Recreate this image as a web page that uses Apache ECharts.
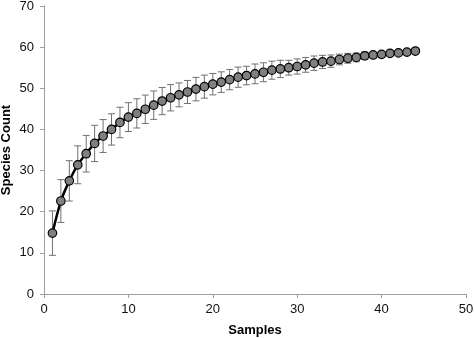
<!DOCTYPE html>
<html>
<head>
<meta charset="utf-8">
<script src="https://cdn.jsdelivr.net/npm/echarts@6/dist/echarts.min.js"></script>
<style>html,body{margin:0;padding:0;background:#fff}#c{width:474px;height:338px}</style>
</head>
<body>
<div id="c"></div>
<script>
const samples = [1,2,3,4,5,6,7,8,9,10,11,12,13,14,15,16,17,18,19,20,21,22,23,24,25,26,27,28,29,30,31,32,33,34,35,36,37,38,39,40,41,42,43,44];
const speciesCount = [14.8,22.6,27.5,31.4,34.1,36.6,38.4,40.0,41.7,43.0,43.9,44.9,45.9,46.9,47.7,48.4,49.1,49.8,50.4,51.0,51.5,52.1,52.7,53.1,53.5,53.9,54.4,54.7,55.0,55.3,55.7,56.1,56.4,56.6,57.0,57.3,57.5,57.9,58.1,58.25,58.5,58.6,58.8,59.05];
const errorSD = [5.4,5.2,4.9,4.6,4.45,4.4,4.0,3.8,3.7,3.5,3.55,3.45,3.45,3.3,3.2,2.9,2.8,2.85,2.8,2.6,2.5,2.45,2.45,2.25,2.4,2.3,2.2,2.1,1.8,1.85,1.8,1.75,1.6,1.5,1.3,1.2,1.05,0.9,0.6,0.4,0,0,0,0];
const xTicks = [0,10,20,30,40,50];
const yTicks = [0,10,20,30,40,50,60,70];

const chart = echarts.init(document.getElementById('c'));
const lineData = samples.map((s,i)=>[s, speciesCount[i]]);
const errData = samples.map((s,i)=>[s, speciesCount[i]-errorSD[i], speciesCount[i]+errorSD[i]]);
const font = 'Liberation Sans, Arial, sans-serif';
chart.setOption({
  animation: false,
  grid: {left: 44, right: 8, top: 6, bottom: 44, containLabel: false, outerBoundsMode: 'none'},
  xAxis: {
    type: 'value', min: xTicks[0], max: xTicks[xTicks.length-1], interval: 10,
    name: 'Samples', nameLocation: 'middle', nameGap: 30, nameMoveOverlap: false,
    nameTextStyle: {fontFamily: font, fontWeight: 'bold', fontSize: 13, color: '#000'},
    axisLine: {lineStyle: {color: '#a0a0a0', width: 1}},
    axisTick: {show: true, length: 4, lineStyle: {color: '#a0a0a0'}},
    axisLabel: {fontFamily: font, fontSize: 13, color: '#111', margin: 9},
    splitLine: {show: false}
  },
  yAxis: {
    type: 'value', min: yTicks[0], max: yTicks[yTicks.length-1], interval: 10,
    name: 'Species Count', nameLocation: 'middle', nameGap: 31, nameRotate: 90, nameMoveOverlap: false,
    nameTextStyle: {fontFamily: font, fontWeight: 'bold', fontSize: 13, color: '#000'},
    axisLine: {show: true, lineStyle: {color: '#a0a0a0', width: 1}},
    axisTick: {show: true, length: 4, lineStyle: {color: '#a0a0a0'}},
    axisLabel: {fontFamily: font, fontSize: 13, color: '#111', margin: 10},
    splitLine: {show: false}
  },
  series: [
    {
      type: 'custom', z: 1,
      data: errData,
      renderItem: function(params, api){
        const x = api.value(0);
        const lo = api.coord([x, api.value(1)]);
        const hi = api.coord([x, api.value(2)]);
        const hw = 3.5;
        const st = {stroke: '#707070', lineWidth: 1};
        return {type: 'group', children: [
          {type: 'line', shape: {x1: lo[0], y1: lo[1], x2: hi[0], y2: hi[1]}, style: st},
          {type: 'line', shape: {x1: lo[0]-hw, y1: lo[1], x2: lo[0]+hw, y2: lo[1]}, style: st},
          {type: 'line', shape: {x1: hi[0]-hw, y1: hi[1], x2: hi[0]+hw, y2: hi[1]}, style: st}
        ]};
      }
    },
    {
      type: 'line', z: 3,
      data: lineData,
      smooth: 0.3,
      symbol: 'circle', symbolSize: 8.5,
      lineStyle: {color: '#000', width: 2.5},
      itemStyle: {color: '#808080', borderColor: '#000', borderWidth: 1.2}
    }
  ]
});
</script>
</body>
</html>
